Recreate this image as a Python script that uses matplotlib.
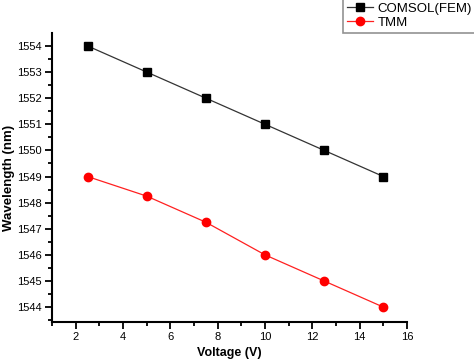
import matplotlib
matplotlib.use('Agg')
import matplotlib.pyplot as plt
from matplotlib.ticker import MultipleLocator

voltage = [2.5, 5, 7.5, 10, 12.5, 15]
comsol = [1554, 1553, 1552, 1551, 1550, 1549]
tmm = [1549, 1548.25, 1547.25, 1546, 1545, 1544]

plt.rcParams['font.family'] = ['Liberation Sans', 'DejaVu Sans']

fig = plt.figure(figsize=(4.74, 3.62), dpi=100)
ax = fig.add_axes([0.1097, 0.1105, 0.749, 0.798])

l1, = ax.plot(voltage, comsol, color='#333333', lw=0.9, marker='s', ms=5.5,
              mfc='black', mec='black', label='COMSOL(FEM)')
l2, = ax.plot(voltage, tmm, color='#ff2020', lw=0.9, marker='o', ms=6,
              mfc='#ff0000', mec='#ff0000', label='TMM')

ax.set_xlim(1, 16)
ax.set_ylim(1543.43, 1554.49)
ax.xaxis.set_major_locator(MultipleLocator(2))
ax.xaxis.set_minor_locator(MultipleLocator(1))
ax.yaxis.set_major_locator(MultipleLocator(1))
ax.yaxis.set_minor_locator(MultipleLocator(0.5))
ax.tick_params(which='major', direction='out', length=5, width=1.3, labelsize=8, pad=2.5)
ax.tick_params(which='minor', direction='out', length=3, width=1.3)
ax.spines['top'].set_visible(False)
ax.spines['right'].set_visible(False)
ax.spines['left'].set_linewidth(1.5)
ax.spines['bottom'].set_linewidth(1.5)

ax.set_xlabel('Voltage (V)', fontsize=9, fontweight='bold')
ax.set_ylabel('Wavelength (nm)', fontsize=9.5, fontweight='bold')
ax.xaxis.set_label_coords(0.5, -0.085)
ax.yaxis.set_label_coords(-0.105, 0.5)

leg = fig.legend(handles=[l1, l2], loc='lower left', bbox_to_anchor=(0.7236, 0.9088),
                 frameon=True, fancybox=False, fontsize=9.5, borderaxespad=0,
                 handlelength=2.0, handletextpad=0.3, borderpad=0.3, labelspacing=0.15)
leg.get_frame().set_edgecolor('#777777')
leg.get_frame().set_linewidth(1.2)

fig.savefig('out.png', dpi=100)
